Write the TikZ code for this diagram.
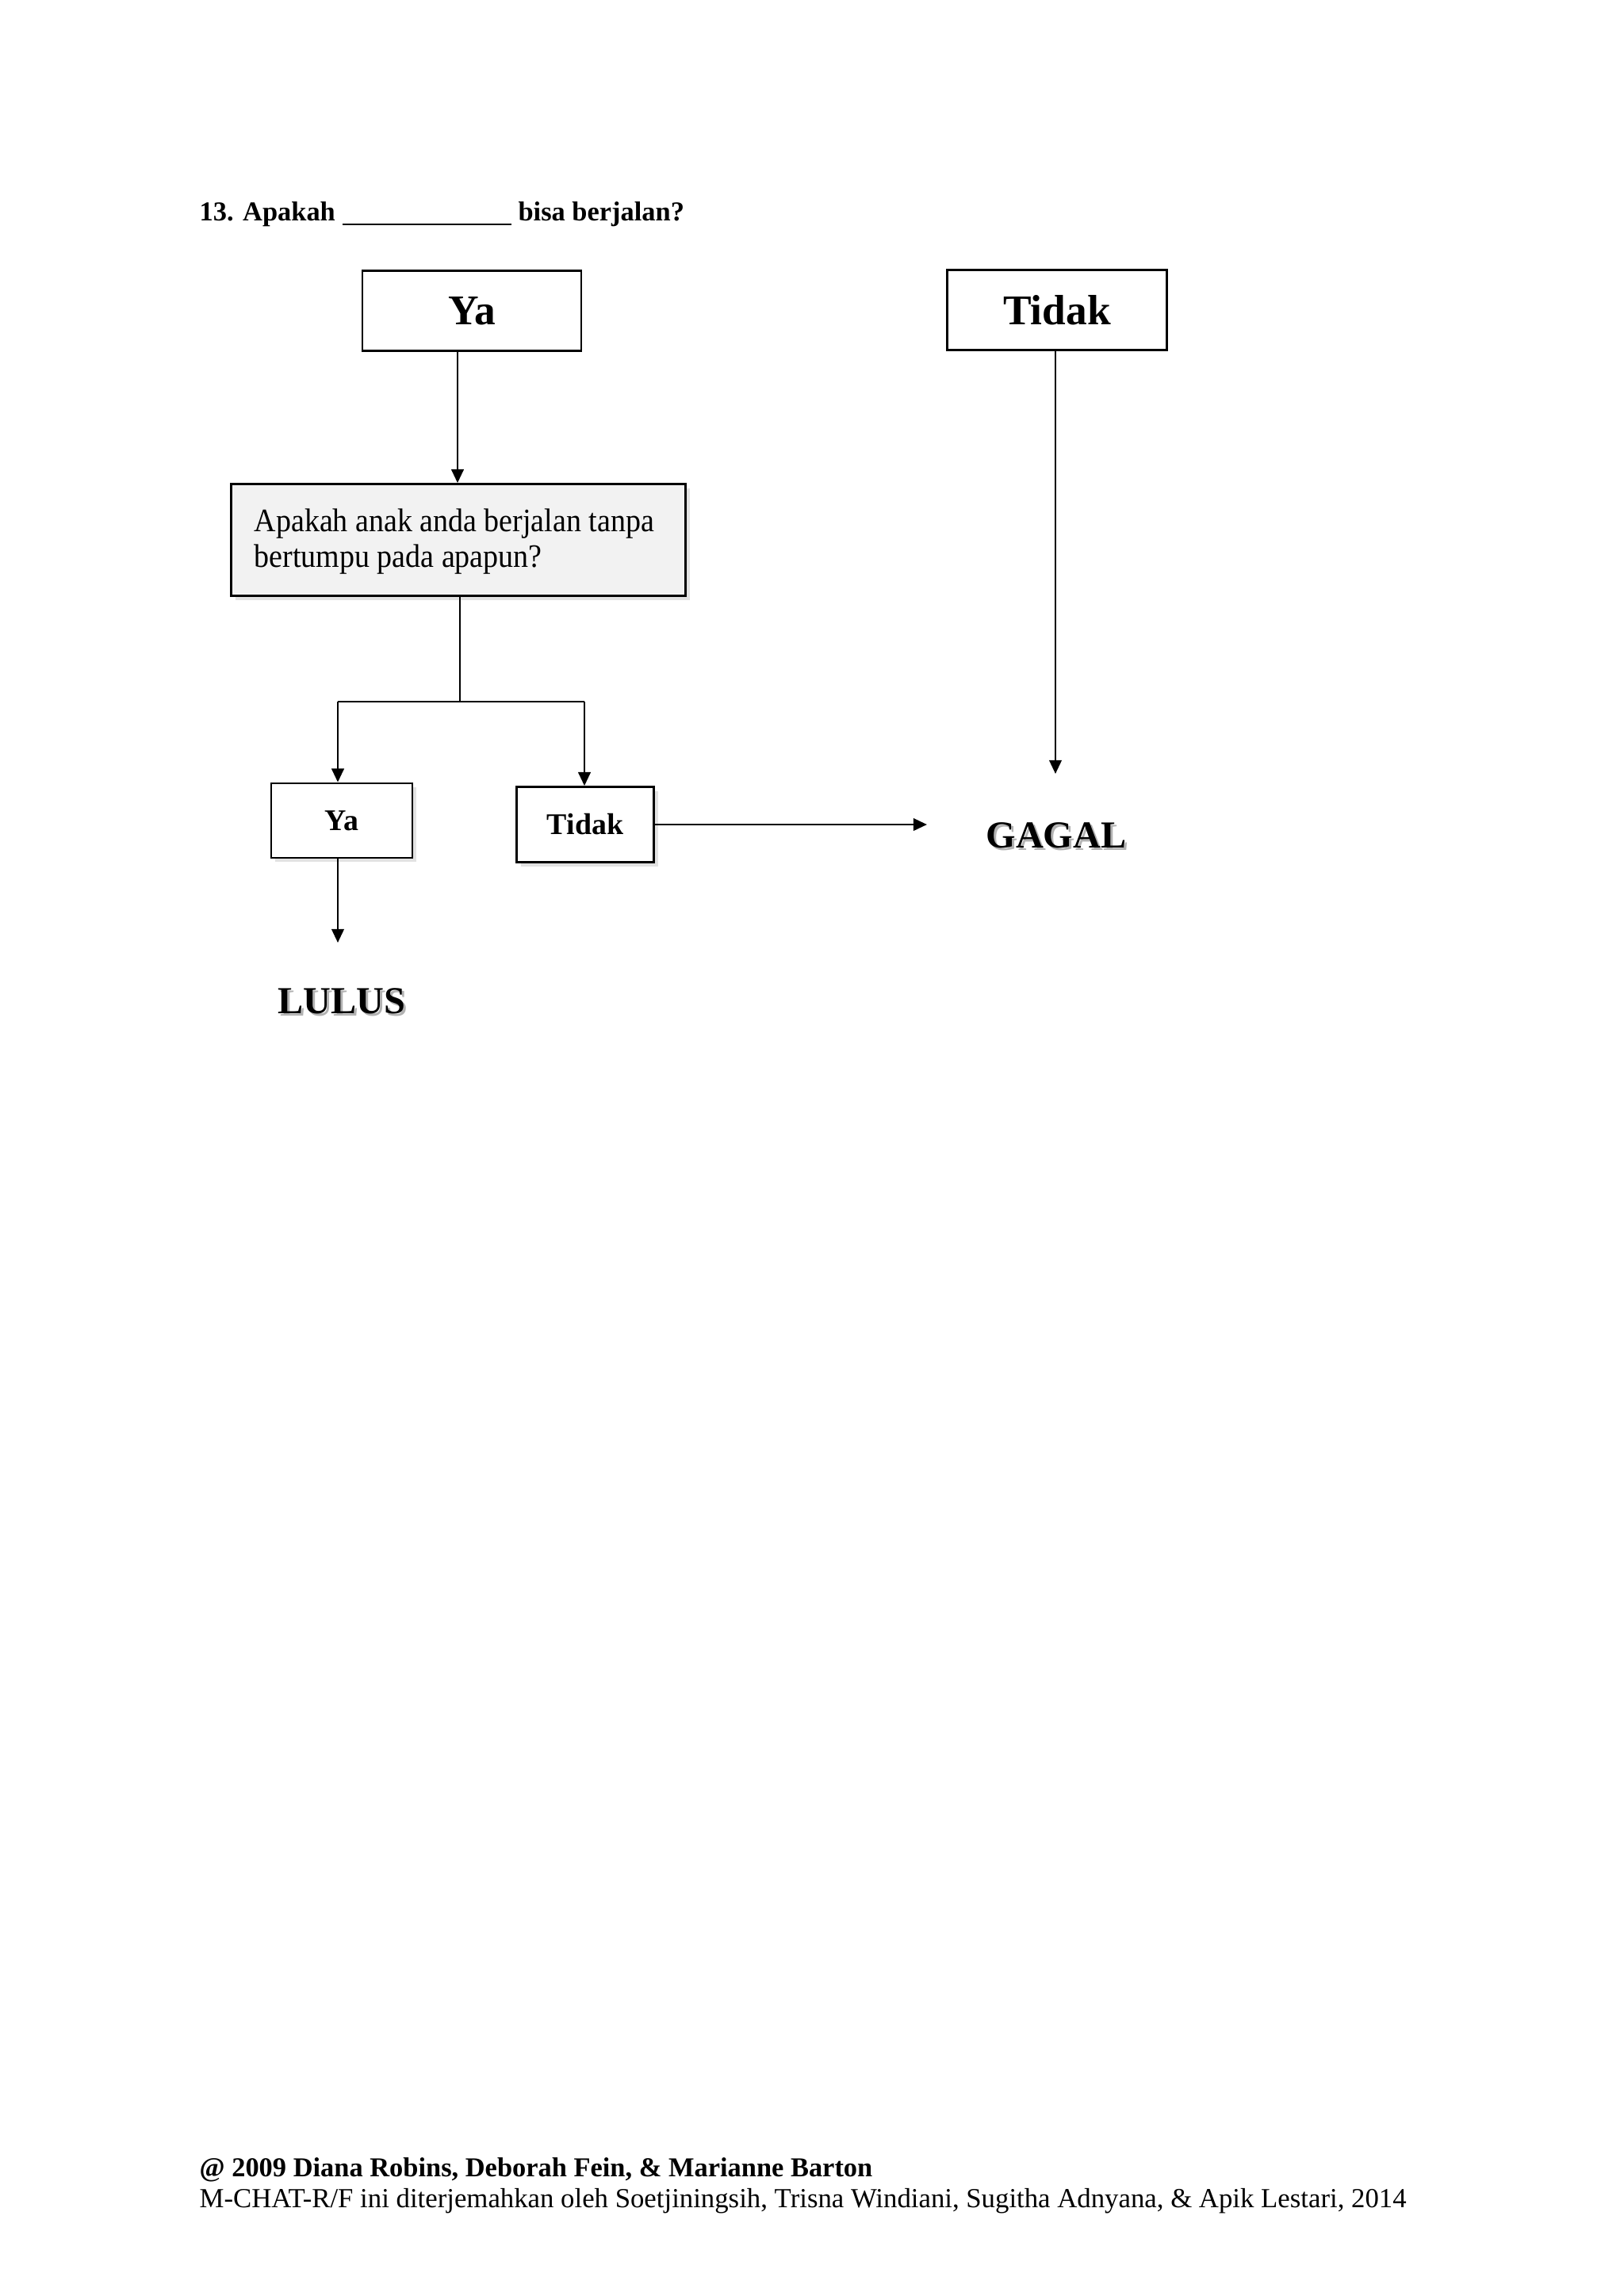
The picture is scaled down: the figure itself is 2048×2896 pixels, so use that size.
\documentclass[tikz,border=0pt]{standalone}
\usepackage{fontspec}
\setmainfont{Liberation Serif}
\usetikzlibrary{arrows.meta,shadows}
\begin{document}
\begin{tikzpicture}[x=0.2905pt,y=-0.2905pt,
  conn/.style={line width=0.8pt,-{Triangle[length=5pt,width=4.5pt]}},
  bx/.style={draw,line width=0.8pt,fill=white,drop shadow={shadow xshift=1.5pt,shadow yshift=-1.5pt,fill=gray!45}},
  shad/.style={font=\fontsize{14}{16}\selectfont\bfseries}]
\useasboundingbox (0,0) rectangle (2048,2896);
\node[anchor=base west,inner sep=0pt,font=\fontsize{10}{12}\selectfont\bfseries] (title) at (251,278) {13. Apakah \underline{\hspace{6.2em}} bisa berjalan?};
\node[draw,line width=0.8pt,minimum width=276*0.2905pt,minimum height=101*0.2905pt,font=\fontsize{15.5}{18}\selectfont\bfseries] (ya) at (595,392) {Ya};
\node[draw,line width=0.8pt,minimum width=277*0.2905pt,minimum height=101*0.2905pt,font=\fontsize{15.5}{18}\selectfont\bfseries] (tidak) at (1333,391) {Tidak};
\node[bx,fill=gray!10,minimum width=573*0.2905pt,minimum height=141*0.2905pt] (q) at (578,681) {};
\node[anchor=base west,inner sep=0pt,font=\fontsize{12}{14}\selectfont] (q1) at (320,670) {\scalebox{0.92}[1]{Apakah anak anda berjalan tanpa}};
\node[anchor=base west,inner sep=0pt,font=\fontsize{12}{14}\selectfont] (q2) at (320,715) {\scalebox{0.92}[1]{bertumpu pada apapun?}};
\node[bx,minimum width=178*0.2905pt,minimum height=94*0.2905pt,font=\fontsize{11}{13}\selectfont\bfseries] (sya) at (431,1035) {Ya};
\node[bx,minimum width=173*0.2905pt,minimum height=95*0.2905pt,font=\fontsize{11}{13}\selectfont\bfseries] (stidak) at (738,1040) {Tidak};
\node[shad,text=gray!60] at (1335,1057) {GAGAL};
\node[shad] (gagal) at (1332,1054) {GAGAL};
\node[shad,text=gray!60] at (434,1266) {LULUS};
\node[shad] (lulus) at (431,1263) {LULUS};
\coordinate (j) at (580,885);
\coordinate (gl) at (1169,1040);
\coordinate (gt) at (1331,976);
\coordinate (lt) at (426,1189);
\draw[conn] (ya.south -| 577,0) -- (q.north -| 577,0);
\draw[line width=0.8pt] (q.south -| j) -- (j);
\draw[line width=0.8pt] (426,885) -- (737,885);
\draw[conn] (426,885) -- (sya.north -| 426,0);
\draw[conn] (737,885) -- (stidak.north -| 737,0);
\draw[conn] (stidak.east |- gl) -- (gl);
\draw[conn] (tidak.south -| gt) -- (gt);
\draw[conn] (sya.south -| lt) -- (lt);
\node[anchor=base west,inner sep=0pt,font=\fontsize{10}{12}\selectfont\bfseries] (f1) at (251,2745) {@ 2009 Diana Robins, Deborah Fein, \& Marianne Barton};
\node[anchor=base west,inner sep=0pt,font=\fontsize{10.1}{12}\selectfont] (f2) at (251,2784) {M-CHAT-R/F ini diterjemahkan oleh Soetjiningsih, Trisna Windiani, Sugitha Adnyana, \& Apik Lestari, 2014};
\end{tikzpicture}
\end{document}
